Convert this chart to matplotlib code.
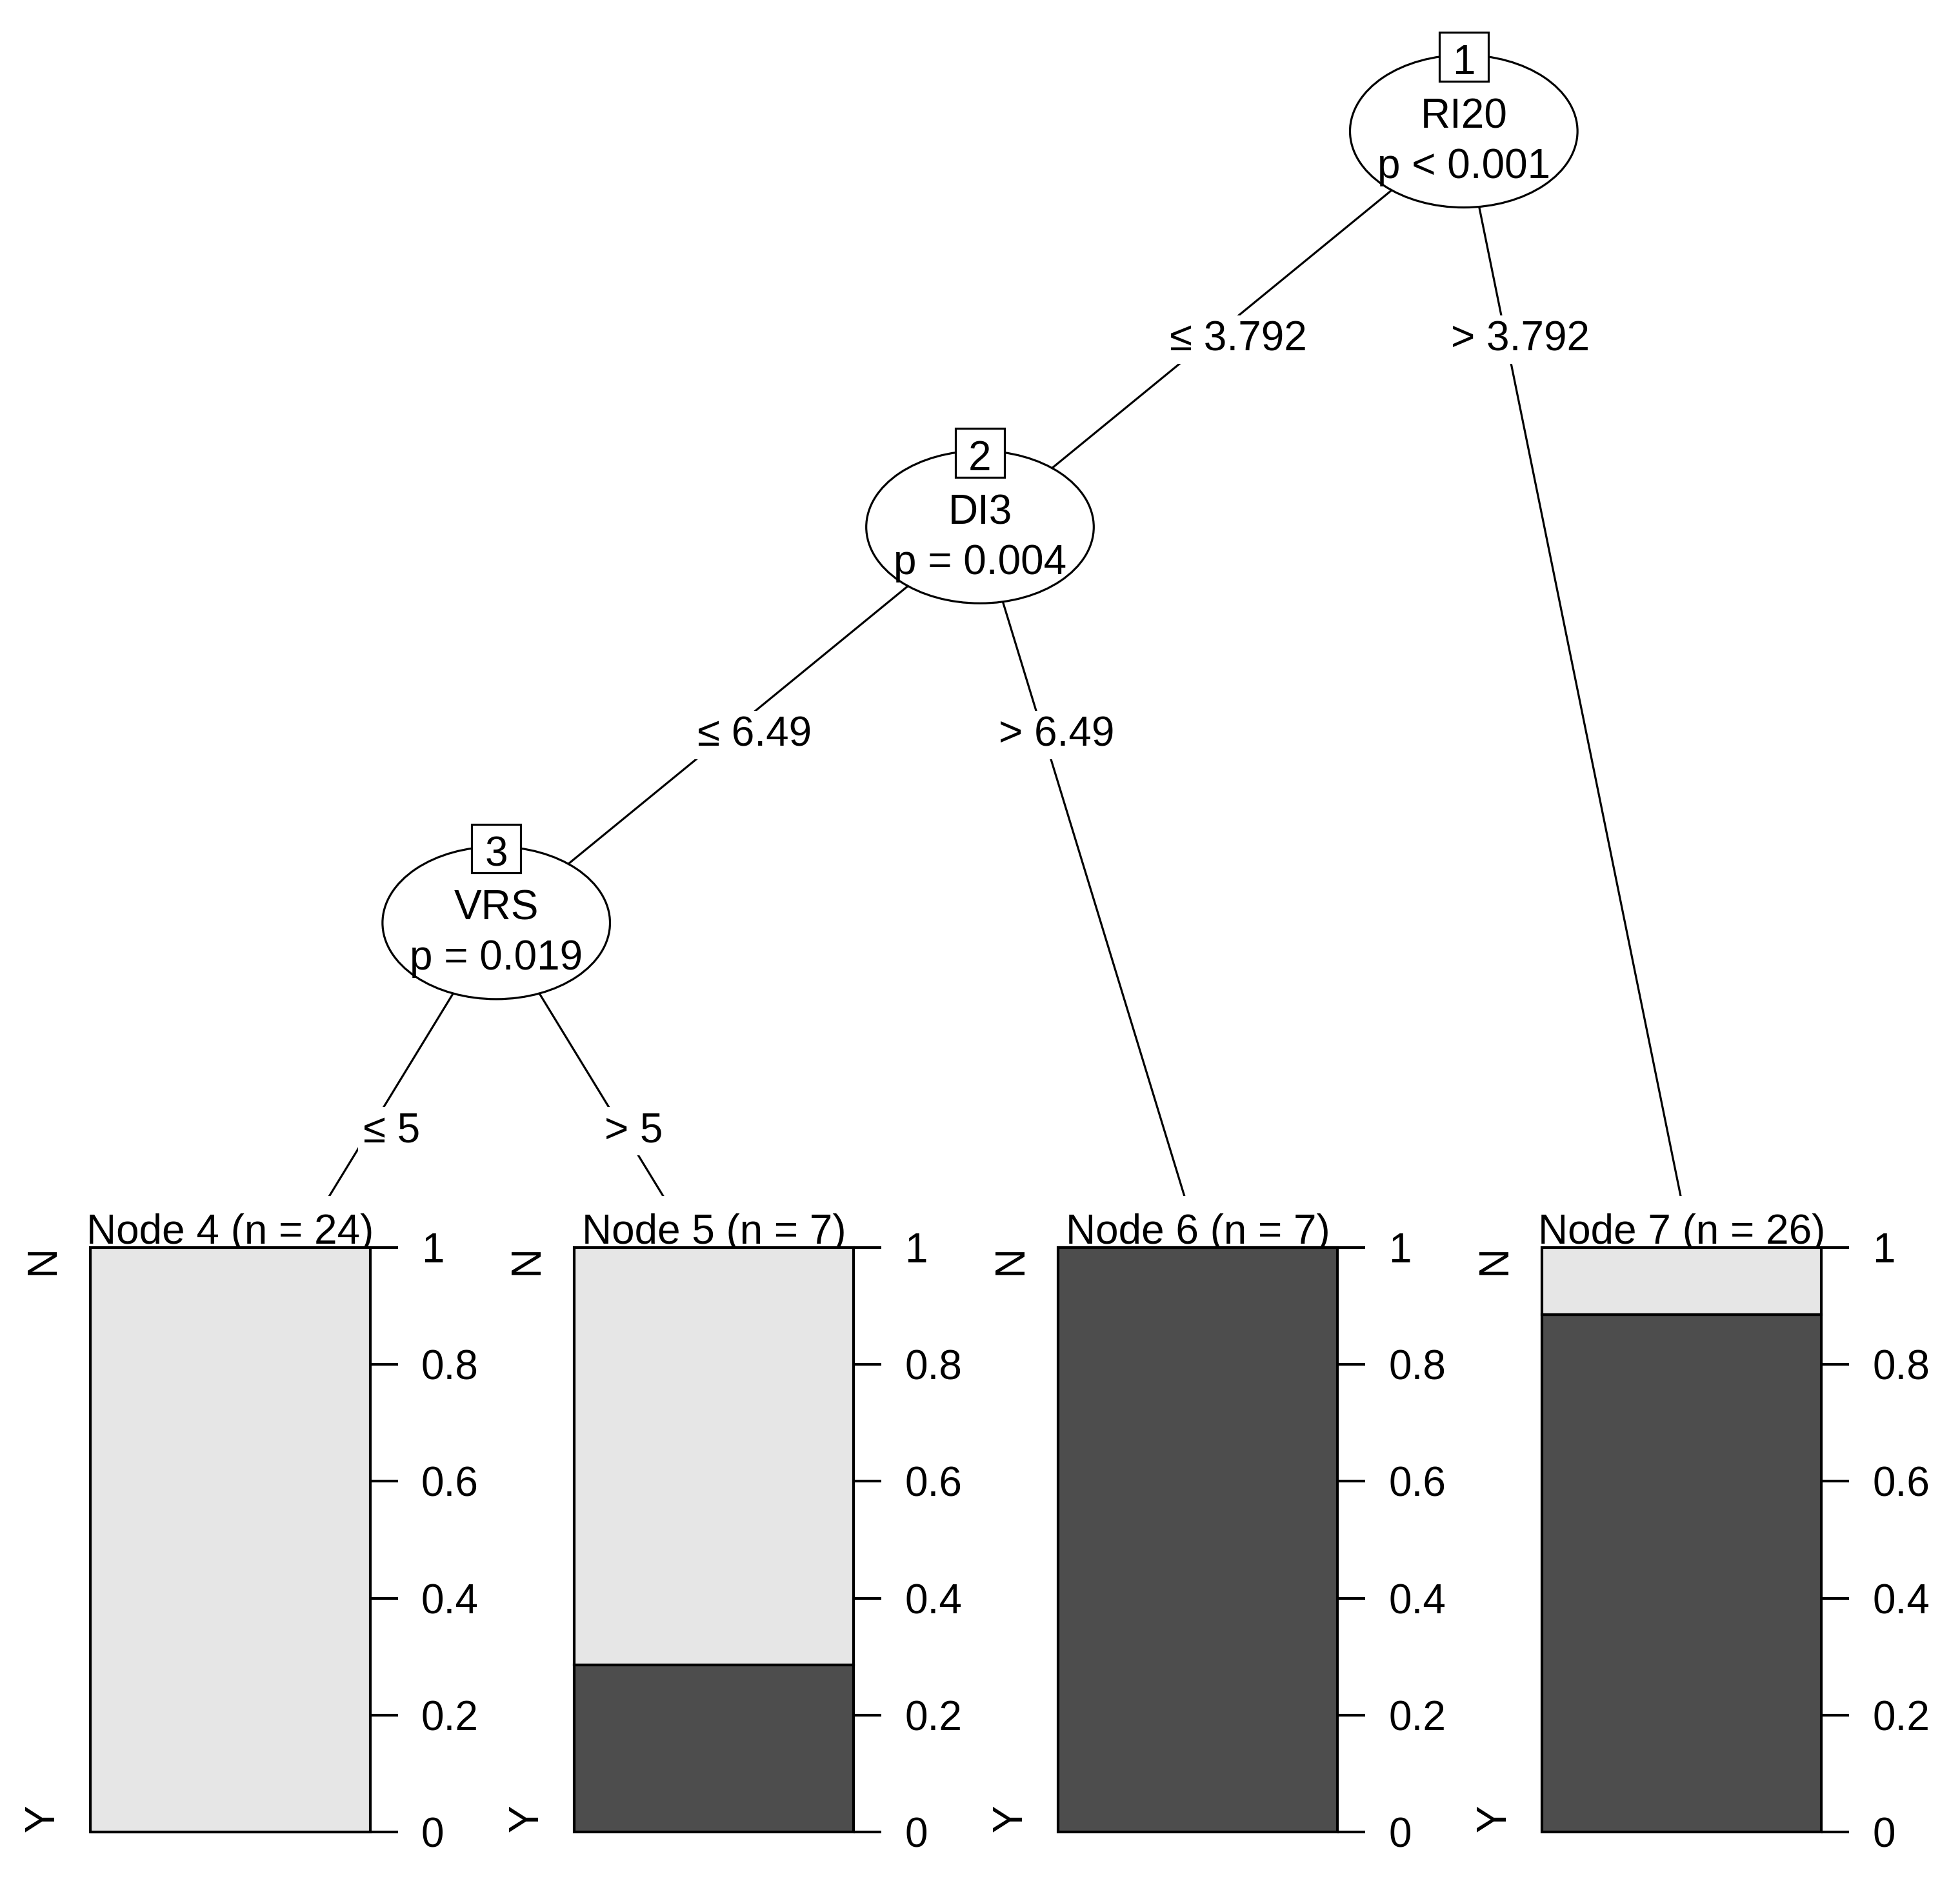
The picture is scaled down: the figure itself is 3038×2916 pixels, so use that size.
import matplotlib
matplotlib.use("Agg")
import matplotlib.pyplot as plt
from matplotlib.patches import Ellipse, Rectangle

# inner nodes of the tree
inner_ids = [1, 2, 3]
split_vars = ["RI20", "DI3", "VRS"]
p_labels = ["p < 0.001", "p = 0.004", "p = 0.019"]
left_kids = [2, 3, 4]
right_kids = [7, 6, 5]
left_splits = ["≤ 3.792", "≤ 6.49", "≤ 5"]
right_splits = ["> 3.792", "> 6.49", "> 5"]

# terminal nodes: size and share of class Y
terminal_ids = [4, 5, 6, 7]
terminal_n = [24, 7, 7, 26]
share_y = [0 / 24, 2 / 7, 7 / 7, 23 / 26]
class_levels = ["Y", "N"]
tick_values = [0, 0.2, 0.4, 0.6, 0.8, 1]
tick_labels = ["0", "0.2", "0.4", "0.6", "0.8", "1"]

plt.rcParams["font.family"] = ["Liberation Sans", "DejaVu Sans"]
FS = 46
LW = 2.3
DARK = "#4d4d4d"
LIGHT = "#e6e6e6"

# canvas units, figure is 3038 x 2916 px
CW, CH = 1568, 1505
X0, UX = 10, 387      # leaf slot origin / width
Y0, UY = 105, 316.7   # root level / level spacing

kids = {n: (l, r) for n, l, r in zip(inner_ids, left_kids, right_kids)}


def n_leaves(node):
    if node not in kids:
        return 1
    l, r = kids[node]
    return n_leaves(l) + n_leaves(r)


# partykit-like layout: inner node sits at the border of its left subtree
pos = {}


def place(node, xlo, depth):
    if node not in kids:
        pos[node] = (xlo + 0.5, None)
        return
    l, r = kids[node]
    nl = n_leaves(l)
    pos[node] = (xlo + nl, depth)
    place(l, xlo, depth + 1)
    place(r, xlo + nl, depth + 1)


place(inner_ids[0], 0, 0)
leaf_depth = max(d for _, d in pos.values() if d is not None) + 1


def cx(x):
    return X0 + UX * x


def cy(d):
    return Y0 + UY * d


def node_xy(node):
    x, d = pos[node]
    return cx(x), cy(leaf_depth if d is None else d)


fig = plt.figure(figsize=(30.38, 29.16), dpi=100)
ax = fig.add_axes([0, 0, 1, 1])
ax.set_xlim(0, CW)
ax.set_ylim(CH, 0)
ax.axis("off")

panel_top = cy(leaf_depth) - 98

# edges and their labels
for i, node in enumerate(inner_ids):
    x0, y0 = node_xy(node)
    for kid, lab in ((left_kids[i], left_splits[i]), (right_kids[i], right_splits[i])):
        x1, y1 = node_xy(kid)
        ax.plot([x0, x1], [y0, y1], color="black", lw=LW, zorder=1,
                solid_capstyle="butt")
        ly = y0 + UY / 2
        lx = x0 + (x1 - x0) * (ly - y0) / (y1 - y0) + 13
        ax.text(lx, ly + 17, lab, fontsize=FS, ha="center", va="baseline",
                zorder=4, bbox=dict(boxstyle="square,pad=0.12", fc="white", ec="none"))

# inner node ellipses
for i, node in enumerate(inner_ids):
    x0, y0 = node_xy(node)
    ax.add_patch(Ellipse((x0, y0), 182, 122, fc="white", ec="black", lw=LW, zorder=3))
    ax.add_patch(Rectangle((x0 - 19.5, y0 - 79), 39, 39, fc="white", ec="black",
                           lw=LW, zorder=5))
    ax.text(x0, y0 - 45.5, str(node), fontsize=FS, ha="center", va="baseline", zorder=6)
    ax.text(x0, y0 - 2.5, split_vars[i], fontsize=FS, ha="center", va="baseline", zorder=6)
    ax.text(x0, y0 + 37.5, p_labels[i], fontsize=FS, ha="center", va="baseline", zorder=6)

# terminal panels
bar_top, bar_bot, bar_w = 998, 1466, 223.5
for node, n, sy in zip(terminal_ids, terminal_n, share_y):
    c, _ = node_xy(node)
    ax.add_patch(Rectangle((c - UX / 2, panel_top), UX, CH - panel_top,
                           fc="white", ec="none", zorder=2))
    left = c - 131
    bx = fig.add_axes([left / CW, 1 - bar_bot / CH, bar_w / CW, (bar_bot - bar_top) / CH])
    bx.bar(0, sy, width=1, color=DARK, edgecolor="black", lw=3, clip_on=False)
    bx.bar(0, 1 - sy, bottom=sy, width=1, color=LIGHT, edgecolor="black", lw=3,
           clip_on=False)
    bx.set_xlim(-0.5, 0.5)
    bx.set_ylim(0, 1)
    for s in bx.spines.values():
        s.set_visible(False)
    bx.set_xticks([])
    bx.yaxis.tick_right()
    bx.set_yticks(tick_values)
    bx.set_yticklabels(tick_labels)
    bx.tick_params(axis="y", length=31, width=3, pad=26, labelsize=FS)
    bx.patch.set_alpha(0)

    ax.text(left + bar_w / 2, bar_top - 3, f"Node {node} (n = {n})", fontsize=FS,
            ha="center", va="baseline", zorder=6)
    ax.text(left - 38, bar_top + 10, class_levels[1], fontsize=FS, rotation=90,
            ha="center", va="center", zorder=6)
    ax.text(left - 38, bar_bot - 11, class_levels[0], fontsize=FS, rotation=90,
            ha="center", va="center", zorder=6)

fig.savefig("out.png", dpi=100, facecolor="white")
